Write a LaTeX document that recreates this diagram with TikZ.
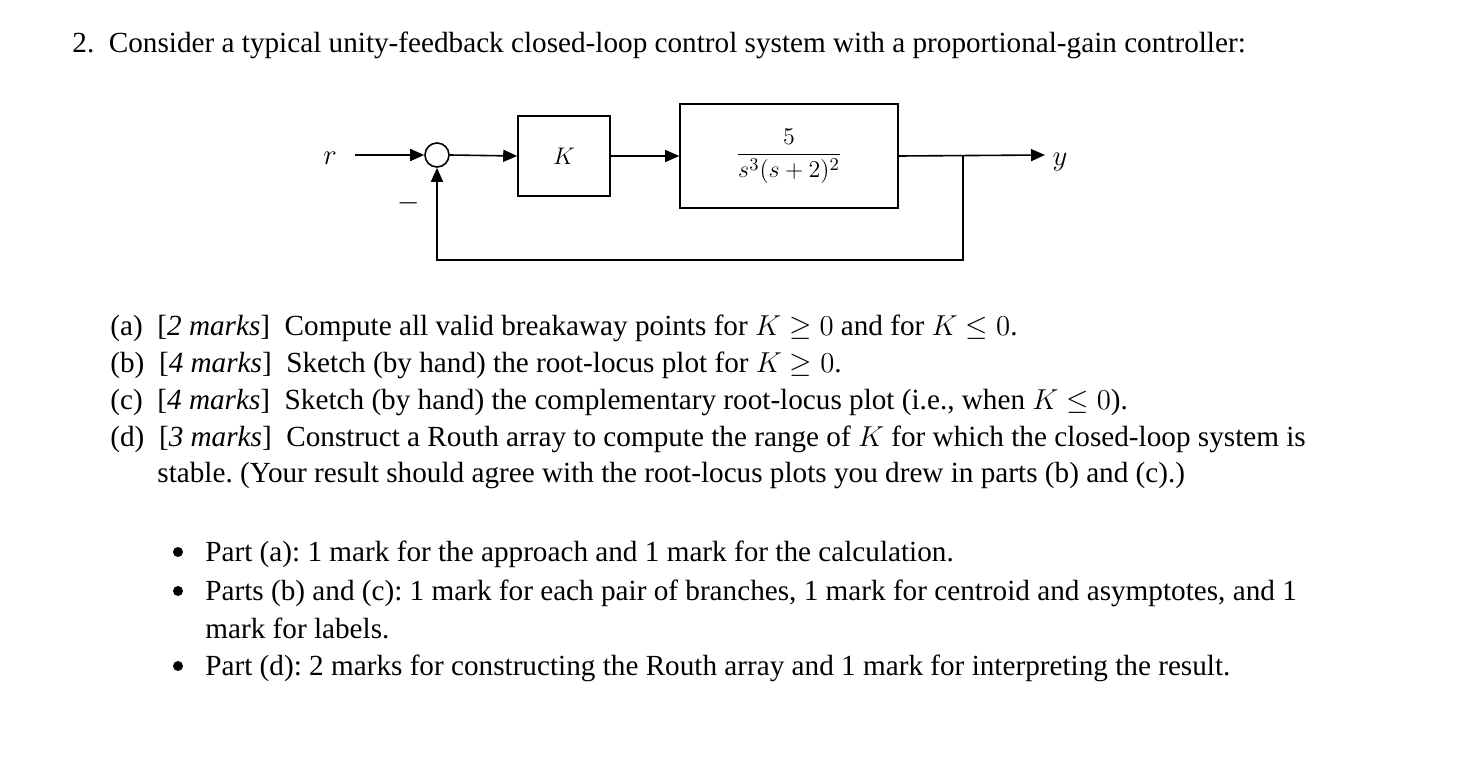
\documentclass[tikz,border=0pt]{standalone}
\usepackage{fontspec}
\setmainfont{Liberation Serif}
\usetikzlibrary{arrows.meta}
\begin{document}
\frenchspacing
\begin{tikzpicture}[x=0.5pt,y=-0.5pt,
  txt/.style={anchor=base west,inner sep=0pt,font=\fontsize{14.6}{17}\selectfont},
  blk/.style={draw,thick,inner sep=0pt,font=\fontsize{13}{15}\selectfont},
  sig/.style={thick,-{Triangle[length=7pt,width=6pt]}},
  lab/.style={inner sep=0pt,font=\fontsize{14}{16}\selectfont}]
\useasboundingbox (0,0) rectangle (1484,776);
\node[txt] (q) at (72,52) {2.\ \ Consider a typical unity-feedback closed-loop control system with a proportional-gain controller:};
% diagram
\node[draw,thick,circle,minimum size=12pt,inner sep=0pt] (sum) at (437,155) {};
\node[blk,minimum width=46pt,minimum height=40pt] (k) at (564,156) {$K$};
\node[blk,minimum width=109pt,minimum height=52pt] (g) at (789,156) {$\displaystyle\frac{5}{s^3(s+2)^2}$};
\node[lab] (r) at (330,158) {$r$};
\node[lab] (y) at (1060,162) {$y$};
\coordinate (rin) at (355,155);
\coordinate (yout) at (1045,155);
\coordinate (br) at (963,155);
\coordinate (bl) at (963,260);
\coordinate (bb) at (437,260);
\node[lab] (minus) at (409,203) {$-$};
\draw[sig] (rin) -- (sum.west);
\draw[sig] (sum.east) -- (k.west);
\draw[sig] (k.east) -- (g.west);
\draw[sig] (g.east) -- (yout);
\draw[sig] (br) -- (bl) -- (bb) -- (sum.south);
% parts
\node[txt] (a) at (110,335) {(a)\ \ [\textit{2 marks}]\ \ Compute all valid breakaway points for $K\ge 0$ and for $K\le 0$.};
\node[txt] (b) at (110,372) {(b)\ \ [\textit{4 marks}]\ \ Sketch (by hand) the root-locus plot for $K\ge 0$.};
\node[txt] (c) at (110,409) {(c)\ \ [\textit{4 marks}]\ \ Sketch (by hand) the complementary root-locus plot (i.e., when $K\le 0$).};
\node[txt] (d) at (110,446) {(d)\ \ [\textit{3 marks}]\ \ Construct a Routh array to compute the range of $K$ for which the closed-loop system is};
\node[txt] (d2) at (157,482) {stable. (Your result should agree with the root-locus plots you drew in parts (b) and (c).)};
% bullets
\foreach \yy/\n in {552/b1,591/b2,666/b4}{\node[circle,fill,inner sep=0pt,minimum size=5pt] (\n) at (178,\yy) {};}
\node[txt] (p1) at (205,561) {Part (a): 1 mark for the approach and 1 mark for the calculation.};
\node[txt] (p2) at (205,600) {Parts (b) and (c): 1 mark for each pair of branches, 1 mark for centroid and asymptotes, and 1};
\node[txt] (p3) at (205,638) {mark for labels.};
\node[txt] (p4) at (205,675) {Part (d): 2 marks for constructing the Routh array and 1 mark for interpreting the result.};
\end{tikzpicture}
\end{document}
